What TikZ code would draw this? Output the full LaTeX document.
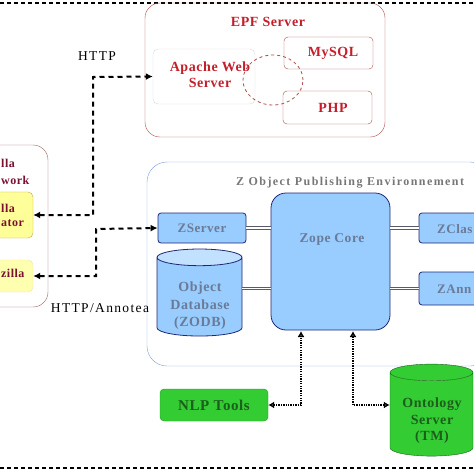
\documentclass[tikz,border=0pt]{standalone}
\usepackage{fontspec}
\setmainfont{Liberation Serif}
\newfontfamily\spaced[LetterSpace=4]{Liberation Serif}
\newfontfamily\wide[LetterSpace=10]{Liberation Serif}
\newfontfamily\widest[LetterSpace=12]{Liberation Serif}
\usetikzlibrary{shapes.geometric, arrows.meta}

\definecolor{epfline}{HTML}{B04A4A}
\definecolor{epftext}{HTML}{C41E2A}
\definecolor{apacheline}{HTML}{D9D9D9}
\definecolor{envline}{HTML}{7F9CDB}
\definecolor{zfill}{HTML}{99CCFF}
\definecolor{zline}{HTML}{1E2878}
\definecolor{ztext}{HTML}{6A7B98}
\definecolor{envtext}{HTML}{777777}
\definecolor{linkgrey}{HTML}{5A5A6E}
\definecolor{greenfill}{HTML}{33CC33}
\definecolor{greenline}{HTML}{2A992A}
\definecolor{greentext}{HTML}{1C5E1C}
\definecolor{annotfill}{HTML}{FFFF99}
\definecolor{annotline}{HTML}{C9A33F}
\definecolor{mozfill}{HTML}{FFFFB0}
\definecolor{mozline}{HTML}{EEE3A8}
\definecolor{fwline}{HTML}{9A6262}
\definecolor{fwtext}{HTML}{7A1030}

\tikzset{
  epfbox/.style={draw=epfline, rounded corners=4pt, minimum width=89pt, minimum height=32pt},
  epflabel/.style={text=epftext, font=\spaced\bfseries\fontsize{14}{16}\selectfont, align=center},
  zbox/.style={draw=zline, fill=zfill, thick, rounded corners=3pt},
  zlabel/.style={text=ztext, font=\spaced\bfseries\fontsize{13}{15}\selectfont, align=center},
  zlink/.style={draw=linkgrey, double=white, double distance=1.6pt, line width=0.8pt},
  httplink/.style={line width=2pt, dash pattern=on 5pt off 4pt, {Latex[length=7pt,width=7pt]}-{Latex[length=7pt,width=7pt]}},
  nlplink/.style={line width=2.4pt, dash pattern=on 1.3pt off 1.1pt, {Latex[length=6pt,width=7pt,fill=gray!70!black]}-{Latex[length=6pt,width=7pt,fill=gray!70!black]}},
  greenlabel/.style={text=greentext, font=\spaced\bfseries\fontsize{14}{16.5}\selectfont, align=center},
  mozlabel/.style={text=fwtext, font=\spaced\bfseries\fontsize{12}{14}\selectfont, anchor=west, inner sep=0pt},
  plainlabel/.style={font=\wide\fontsize{13.5}{15}\selectfont},
}

\begin{document}
\begin{tikzpicture}[x=1pt, y=-1pt]
    \useasboundingbox (0,0) rectangle (474,474);
    \clip (0,0) rectangle (474,474);

    % separators
    \draw[line width=1.3pt, dash pattern=on 4pt off 3pt] (0,3) -- (474,3);
    \draw[line width=1.3pt, dash pattern=on 4pt off 3pt] (0,468) -- (474,468);

    % EPF server
    \node[draw=epfline, rounded corners=15pt, minimum width=240pt, minimum height=134pt] (epf) at (265,70) {};
    \node[epflabel] (epftitle) at (268,22) {EPF Server};
    \node[draw=apacheline, rounded corners=5pt, minimum width=102pt, minimum height=55pt] (apache) at (204,76.5) {};
    \node[epflabel] (apachetext) at (210,75) {Apache Web\\Server};
    \node[epfbox] (mysql) at (328.5,53) {};
    \node[epflabel] at (333,53) {MySQL};
    \node[epfbox, minimum height=33pt] (php) at (327.5,107.5) {};
    \node[epflabel] at (333,108) {PHP};
    \draw[epfline, dashed, thick] (273,80) ellipse [x radius=30pt, y radius=25pt];

    % Mozilla side
    \node[draw=fwline, rounded corners=15pt, minimum width=68pt, minimum height=162pt] (framework) at (14,226) {};
    \node[mozlabel] at (1,163) {lla};
    \node[mozlabel] at (1,180) {work};
    \node[draw=annotline, fill=annotfill, rounded corners=5pt, minimum width=53pt, minimum height=46pt] (annot) at (6.5,215) {};
    \node[mozlabel] at (1,208) {lla};
    \node[mozlabel] at (1,223) {ator};
    \node[draw=mozline, fill=mozfill, rounded corners=5pt, minimum width=53pt, minimum height=32pt] (moz) at (6.5,276) {};
    \node[mozlabel] at (1,273) {zilla};

    % Zope environment
    \node[draw=envline, rounded corners=20pt, minimum width=343pt, minimum height=204pt] (env) at (318.5,264) {};
    \node[text=envtext, font=\widest\bfseries\fontsize{12}{14}\selectfont, anchor=west, inner sep=0pt] (envtitle) at (236,183) {Z Object Publishing Environnement};
    \node[zbox, minimum width=88pt, minimum height=30pt] (zserver) at (202,228) {};
    \node[zlabel] at (202,228) {ZServer};
    \node[zbox, rounded corners=15pt, minimum width=119pt, minimum height=137pt] (core) at (330.5,261.5) {};
    \node[zlabel, font=\spaced\bfseries\fontsize{13.5}{15}\selectfont] at (332,239) {Zope Core};
    \node[cylinder, shape border rotate=90, aspect=2.5, draw=zline, thick, cylinder uses custom fill, cylinder body fill=zfill, cylinder end fill=zfill!60!white, minimum width=85pt, minimum height=87pt] (zodb) at (199.5,298.5) {};
    \node[zlabel, font=\spaced\bfseries\fontsize{14}{17.5}\selectfont] at (200,306) {Object\\Database\\(ZODB)};
    \node[zbox, minimum width=81pt, minimum height=30pt] (zclass) at (459.5,228) {};
    \node[zlabel, anchor=west, inner sep=0pt] at (437,229) {ZClas};
    \node[zbox, minimum width=81pt, minimum height=33pt] (zann) at (459.5,288.5) {};
    \node[zlabel, anchor=west, inner sep=0pt] at (437,289) {ZAnn};

    % links inside Zope
    \draw[zlink] (zserver.east) -- (zserver.east -| core.west);
    \draw[zlink] ([yshift=10pt]zodb.east) -- ([yshift=10pt]zodb.east -| core.west);
    \draw[zlink] (core.east |- zclass.west) -- (zclass.west);
    \draw[zlink] (core.east |- zann.west) -- (zann.west);

    % tools
    \node[draw=greenline, fill=greenfill, rounded corners=4pt, minimum width=108pt, minimum height=32pt] (nlp) at (214,405) {};
    \node[greenlabel, font=\spaced\bfseries\fontsize{15}{17}\selectfont] at (214,405) {NLP Tools};
    \node[cylinder, shape border rotate=90, aspect=2.5, draw=greentext, cylinder uses custom fill, cylinder body fill=greenfill, cylinder end fill=greenfill, minimum width=83pt, minimum height=92pt] (onto) at (431.5,416) {};
    \node[greenlabel] at (432,421) {Ontology\\Server\\(TM)};

    % protocols
    \node[plainlabel] (http) at (97,56) {HTTP};
    \node[plainlabel] (annotea) at (100,308) {HTTP/Annotea};
    \coordinate (httpbend) at (93,77);
    \coordinate (annbend) at (96,229);
    \draw[httplink] (annot.east) -| (httpbend) -- (apache.west);
    \draw[httplink] (moz.east) -| (annbend) -- (zserver.west);

    % tool links
    \coordinate (nlpup) at (301,331);
    \coordinate (ontoup) at (353,331);
    \draw[nlplink] (nlp.east) -| (nlpup);
    \draw[nlplink] (ontoup) |- (onto.west |- nlp.east);
\end{tikzpicture}
\end{document}
